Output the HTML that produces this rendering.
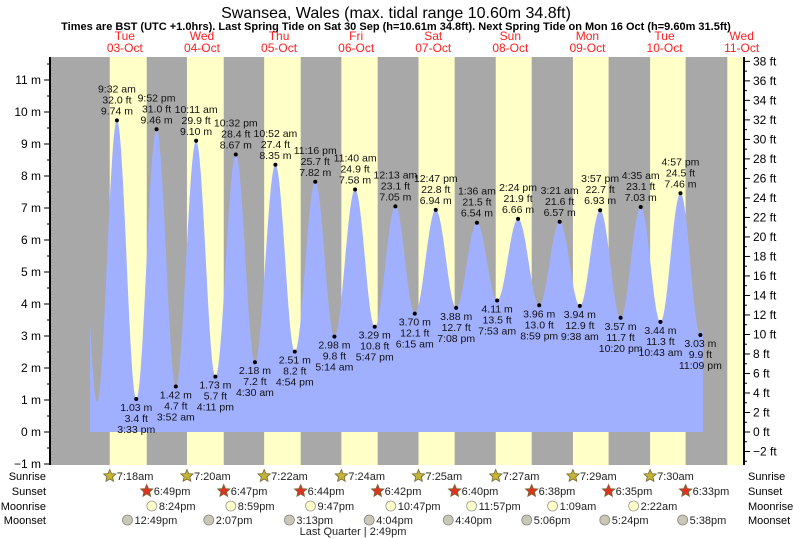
<!DOCTYPE html>
<html><head><meta charset="utf-8"><style>
html,body{margin:0;padding:0;background:#fff;}
svg{display:block;font-family:"Liberation Sans",sans-serif;}
</style></head><body>
<svg id="chart" width="793" height="539" viewBox="0 0 793 539" xmlns="http://www.w3.org/2000/svg">
<text x="396" y="18" text-anchor="middle" font-size="16" fill="#000">Swansea, Wales (max. tidal range 10.60m 34.8ft)</text>
<text x="396" y="30" text-anchor="middle" font-size="11" font-weight="bold" fill="#000">Times are BST (UTC +1.0hrs). Last Spring Tide on Sat 30 Sep (h=10.61m 34.8ft). Next Spring Tide on Mon 16 Oct (h=9.60m 31.5ft)</text>
<g id="bg"></g><g id="fill"></g><g id="axes"></g><g id="labels"></g><g id="bottom"></g>
</svg>
<script>
// ---- data ----
const dayNames = ["Tue","Wed","Thu","Fri","Sat","Sun","Mon","Tue","Wed"];
const dayDates = ["03-Oct","04-Oct","05-Oct","06-Oct","07-Oct","08-Oct","09-Oct","10-Oct","11-Oct"];
const sunriseTimes = ["7:18am","7:20am","7:22am","7:24am","7:25am","7:27am","7:29am","7:30am","7:32am"];
const sunsetTimes = ["6:49pm","6:47pm","6:44pm","6:42pm","6:40pm","6:38pm","6:35pm","6:33pm"];
const moonriseDays = [0,1,2,3,4,6,7];
const moonriseTimes = ["8:24pm","8:59pm","9:47pm","10:47pm","11:57pm","1:09am","2:22am"];
const moonsetTimes = ["12:49pm","2:07pm","3:13pm","4:04pm","4:40pm","5:06pm","5:24pm","5:38pm"];
const tideDays = [0,0,0,1,1,1,1,2,2,2,2,3,3,3,4,4,4,4,5,5,5,5,6,6,6,6,7,7,7,7];
const tideTimes = ["9:32 am","3:33 pm","9:52 pm","3:52 am","10:11 am","4:11 pm","10:32 pm","4:30 am","10:52 am","4:54 pm","11:16 pm","5:14 am","11:40 am","5:47 pm","12:13 am","6:15 am","12:47 pm","7:08 pm","1:36 am","7:53 am","2:24 pm","8:59 pm","3:21 am","9:38 am","3:57 pm","10:20 pm","4:35 am","10:43 am","4:57 pm","11:09 pm"];
const tideHeights = [9.74,1.03,9.46,1.42,9.10,1.73,8.67,2.18,8.35,2.51,7.82,2.98,7.58,3.29,7.05,3.70,6.94,3.88,6.54,4.11,6.66,3.96,6.57,3.94,6.93,3.57,7.03,3.44,7.46,3.03];
const tideFeet = ["32.0","3.4","31.0","4.7","29.9","5.7","28.4","7.2","27.4","8.2","25.7","9.8","24.9","10.8","23.1","12.1","22.8","12.7","21.5","13.5","21.9","13.0","21.6","12.9","22.7","11.7","23.1","11.3","24.5","9.9"];
const edgeBefore = [[-1,"9:10 pm",9.9],[0,"3:20 am",0.95]];
const edgeAfter = [[8,"5:20 am",7.8]];
const yTicksM = [-1,0,1,2,3,4,5,6,7,8,9,10,11];
const yTicksFt = [-2,0,2,4,6,8,10,12,14,16,18,20,22,24,26,28,30,32,34,36,38];

// ---- scales ----
const NS="http://www.w3.org/2000/svg";
const X0=86.3, DAY=77.1, PL=50, PR=744, PT=57, PB=465;
const xH = h => X0 + h/24*DAY;
const yM = m => 432 - m*32;
const yF = f => 432 - f*32/3.28084;
function hrs(d,t){const m=t.replace(/\s/g,'').match(/(\d+):(\d+)(am|pm)/);let h=+m[1]%12;if(m[3]=='pm')h+=12;return d*24+h+(+m[2])/60;}
function mk(tag,attrs,parent,txt){const e=document.createElementNS(NS,tag);for(const k in attrs)e.setAttribute(k,attrs[k]);if(txt!=null)e.textContent=txt;parent.appendChild(e);return e;}
const bg=document.getElementById('bg'),fl=document.getElementById('fill'),ax=document.getElementById('axes'),lb=document.getElementById('labels'),bt=document.getElementById('bottom');

let r=mk('rect',{x:PL,y:PT,width:PR-PL,height:PB-PT,fill:'#a8a8a8'},bg);


for(let d=0;d<9;d++){
  const x1=xH(hrs(d,sunriseTimes[d]));
  const x2=d<sunsetTimes.length?xH(hrs(d,sunsetTimes[d])):PR;
  const b=mk('rect',{x:x1,y:PT,width:Math.min(x2,PR)-x1,height:PB-PT,fill:'#ffffc8'},bg);
  
  
  const t=mk('text',{x:xH(d*24+12),y:40,'text-anchor':'middle','font-size':12,fill:'#ff2020'},bg,dayNames[d]);
  
  
  const t2=mk('text',{x:xH(d*24+12),y:52,'text-anchor':'middle','font-size':12,fill:'#ff2020'},bg,dayDates[d]);
  
  
}

const ext=[];
edgeBefore.forEach(e=>ext.push([hrs(e[0],e[1]),e[2]]));
tideDays.forEach((d,i)=>ext.push([hrs(d,tideTimes[i]),tideHeights[i]]));
edgeAfter.forEach(e=>ext.push([hrs(e[0],e[1]),e[2]]));
function hAt(h){for(let i=0;i<ext.length-1;i++){if(h>=ext[i][0]&&h<=ext[i+1][0]){const f=(h-ext[i][0])/(ext[i+1][0]-ext[i][0]);return ext[i][1]+(ext[i+1][1]-ext[i][1])*(1-Math.cos(Math.PI*f))/2;}}return ext[ext.length-1][1];}
const xs=90, xe=703;
let pts=[[xs,yM(0)]];
for(let x=xs;x<=xe;x+=0.5){const h=(x-X0)/DAY*24;pts.push([x,yM(hAt(h))]);}
pts.push([xe,yM(0)]);
const poly=mk('polygon',{points:pts.map(p=>p[0].toFixed(1)+','+p[1].toFixed(1)).join(' '),fill:'#a0b0ff'},fl);



mk('line',{x1:PL,y1:PT,x2:PL,y2:PB,stroke:'#000','stroke-width':2},ax);
mk('line',{x1:PR,y1:PT,x2:PR,y2:PB,stroke:'#000','stroke-width':2},ax);
for(let m=-1;m<=11.5;m+=0.5){const y=yM(m);mk('line',{x1:PL-(m%1===0?6:3),y1:y,x2:PL,y2:y,stroke:'#000'},ax);}
yTicksM.forEach(m=>{const t=mk('text',{x:PL-9,y:yM(m)+4,'text-anchor':'end','font-size':12,fill:'#000'},ax,(m<0?'\u2212'+(-m):m)+' m');
  
  });
for(let f=-3;f<=39;f++){const y=yF(f);if(y<PT||y>PB)continue;mk('line',{x1:PR,y1:y,x2:PR+(f%2===0?6:3),y2:y,stroke:'#000'},ax);}
yTicksFt.forEach(f=>{const t=mk('text',{x:PR+9,y:yF(f)+4,'font-size':12,fill:'#000'},ax,(f<0?'\u2212'+(-f):f)+' ft');
  
  });

tideDays.forEach((d,i)=>{
  const x=xH(hrs(d,tideTimes[i])),y=yM(tideHeights[i]);
  const isHigh=i%2===0;
  const dot=mk('circle',{cx:x,cy:y,r:2,fill:'#000'},lb);
  
  
  const lines=isHigh?[tideTimes[i],tideFeet[i]+' ft',tideHeights[i].toFixed(2)+' m']:[tideHeights[i].toFixed(2)+' m',tideFeet[i]+' ft',tideTimes[i]];
  const base=isHigh?y-28:y+12;
  lines.forEach((s,k)=>{const t=mk('text',{x:x,y:base+k*11,'text-anchor':'middle','font-size':10.5,fill:'#111'},lb,s);
    
    });
});

const rowY=[476,491,506,520];
["Sunrise","Sunset","Moonrise","Moonset"].forEach((n,k)=>{
  const a=mk('text',{x:46,y:rowY[k]+4,'text-anchor':'end','font-size':11,fill:'#000'},bt,n);
  
  
  const b=mk('text',{x:748,y:rowY[k]+4,'font-size':11,fill:'#000'},bt,n);
  
  
});
function star(cx,cy,fill){let p=[];for(let i=0;i<10;i++){const a=-Math.PI/2+i*Math.PI/5,rr=i%2?3:6.5;p.push((cx+rr*Math.cos(a)).toFixed(1)+','+(cy+rr*Math.sin(a)).toFixed(1));}return mk('polygon',{points:p.join(' '),fill:fill,stroke:'#776633','stroke-width':0.8},bt);}
function lbl(x,y,s,name){const t=mk('text',{x:x+7,y:y+4,'font-size':11,fill:'#222'},bt,s);}
for(let d=0;d<8;d++){
  let x=xH(hrs(d,sunriseTimes[d]));let s=star(x,rowY[0],'#c2b435');
  
  
  lbl(x,rowY[0],sunriseTimes[d],'sunrise-time');
  x=xH(hrs(d,sunsetTimes[d]));s=star(x,rowY[1],'#dd3322');
  
  
  lbl(x,rowY[1],sunsetTimes[d],'sunset-time');
  x=xH(hrs(d,moonsetTimes[d]));const c=mk('circle',{cx:x,cy:rowY[3],r:5,fill:'#c8c8b4',stroke:'#888','stroke-width':0.8},bt);
  
  
  lbl(x,rowY[3],moonsetTimes[d],'moonset-time');
}
moonriseDays.forEach((d,i)=>{
  const x=xH(hrs(d,moonriseTimes[i]));const c=mk('circle',{cx:x,cy:rowY[2],r:5,fill:'#ffffc8',stroke:'#999','stroke-width':0.8},bt);
  
  
  lbl(x,rowY[2],moonriseTimes[i],'moonrise-time');
});
const lq=mk('text',{x:353,y:535,'text-anchor':'middle','font-size':11,fill:'#222'},bt,'Last Quarter | 2:49pm');


</script>
</body></html>
